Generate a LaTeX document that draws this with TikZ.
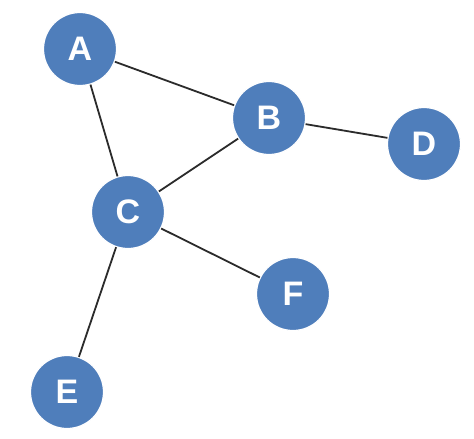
\documentclass[tikz,border=0pt]{standalone}
\usepackage{fontspec}
\setmainfont{Liberation Sans}
\definecolor{nodeblue}{HTML}{4F7EBB}
\definecolor{edgegray}{HTML}{2B2B2B}
\begin{document}
\begin{tikzpicture}[x=1pt,y=-1pt,
  vertex/.style={circle,fill=nodeblue,draw=white,line width=1.2pt,minimum size=73pt,inner sep=0pt,text=white,font=\fontsize{34}{34}\selectfont\bfseries},
  edge/.style={draw=edgegray,line width=1.8pt}]
\useasboundingbox[fill=white] (0,0) rectangle (474,439);
\node[vertex] (A) at (80,49) {A};
\node[vertex] (B) at (269,118) {B};
\node[vertex] (D) at (424,144) {D};
\node[vertex] (C) at (128,212) {C};
\node[vertex] (F) at (293,294) {F};
\node[vertex] (E) at (67,392) {E};
\draw[edge] (A) -- (B);
\draw[edge] (A) -- (C);
\draw[edge] (B) -- (C);
\draw[edge] (B) -- (D);
\draw[edge] (C) -- (F);
\draw[edge] (C) -- (E);
\end{tikzpicture}
\end{document}
